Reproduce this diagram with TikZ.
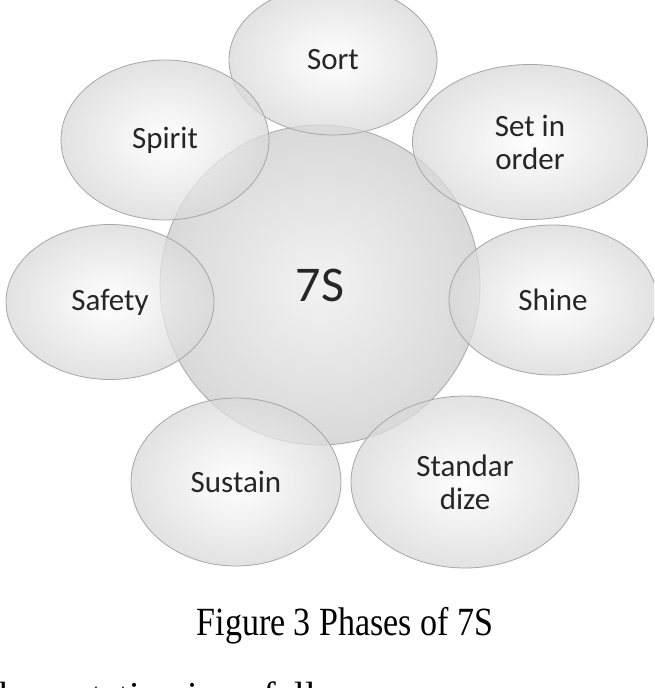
\documentclass[tikz,border=0pt]{standalone}
\usepackage{fontspec}
\setmainfont{Liberation Serif}
\newfontfamily\lab{Carlito}
\begin{document}
\begin{tikzpicture}[x=1pt,y=-1pt,
  sat/.style={ellipse,draw=gray!70,line width=0.8pt,inner color=white,outer color=gray!30,fill opacity=0.75,text opacity=1,font=\lab\fontsize{31}{33}\selectfont,text=black!85,align=center},
  ]
\usetikzlibrary{shapes.geometric}
\clip (0,0) rectangle (654,688);
\fill[white] (0,0) rectangle (654,688);
\node[circle,minimum size=320pt,draw=gray!70,line width=0.8pt,inner color=gray!10,outer color=gray!30,font=\lab\fontsize{50}{52}\selectfont,text=black!85] (c) at (320,285) {7S};
\tikzset{sz/.style={minimum width=208pt,minimum height=150pt,inner sep=0pt}}
\node[sat,sz] (sort) at (333,60) {Sort};
\node[sat,sz,minimum width=235pt,minimum height=155pt] (set) at (530,142) {Set in\\order};
\node[sat,sz,minimum height=150pt] (shine) at (553,300) {Shine};
\node[sat,sz,minimum width=228pt,minimum height=172pt] (std) at (465,482) {Standar\\dize};
\node[sat,sz,minimum width=210pt,minimum height=168pt] (sus) at (236,482) {Sustain};
\node[sat,sz,minimum height=155pt] (saf) at (110,302) {Safety};
\node[sat,sz,minimum height=160pt] (spi) at (165,140) {Spirit};
\node[font=\fontsize{40}{42}\selectfont,xscale=0.85] (cap) at (345,626) {Figure 3 Phases of 7S};
\node[font=\fontsize{38}{40}\selectfont,anchor=base west,inner sep=0pt] (txt) at (-2,708) {lementation is as follows};
\end{tikzpicture}
\end{document}
